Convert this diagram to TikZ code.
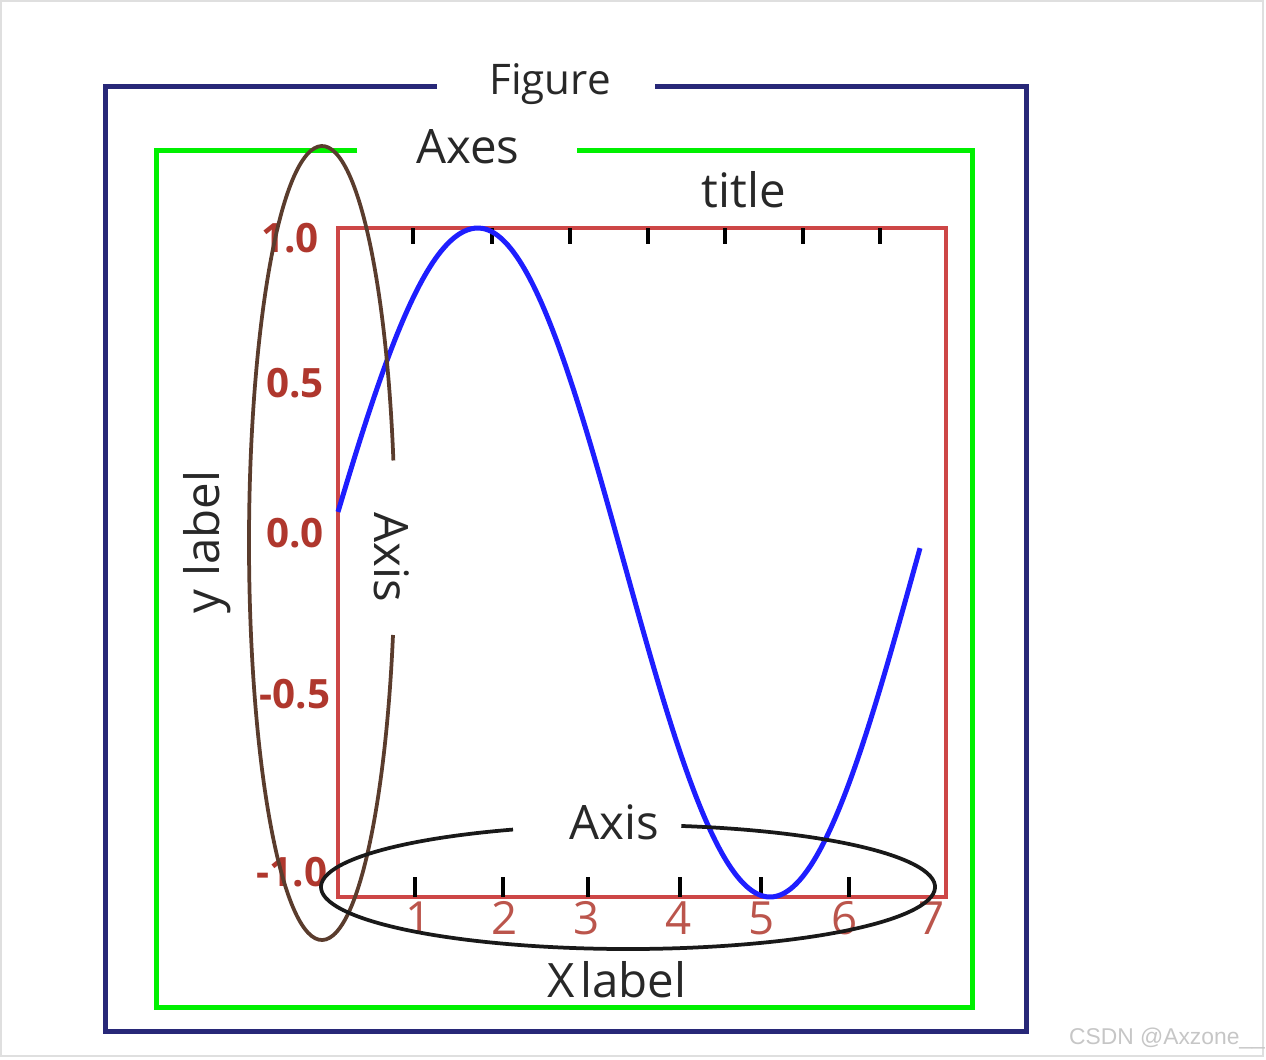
\documentclass[tikz,border=0pt]{standalone}
\usepackage{fontspec}
\setmainfont{Open Sans}
\newfontfamily\wmfont{Liberation Sans}
\definecolor{figblue}{RGB}{40,40,120}
\definecolor{axgreen}{RGB}{0,240,0}
\definecolor{plotred}{RGB}{205,70,70}
\definecolor{txtred}{RGB}{175,55,45}
\definecolor{curveblue}{RGB}{30,30,255}
\definecolor{axbrown}{RGB}{90,60,45}
\definecolor{txtgray}{RGB}{40,40,40}
\begin{document}
\begin{tikzpicture}[x=0.02cm,y=-0.02cm,
  bigtxt/.style={text=txtgray,inner sep=0pt,font=\fontsize{27}{30}\selectfont},
  ylab/.style={text=txtred,inner sep=0pt,font=\fontsize{23}{26}\selectfont\bfseries},
  xlab/.style={text=txtred!85,inner sep=0pt,font=\fontsize{26}{30}\selectfont},
  tickmark/.style={line width=0.08cm,black},
]
\useasboundingbox (0,0) rectangle (1266,1059);
\draw[gray!25,line width=0.04cm] (1,1) rectangle (1263,1056);
% Figure frame
\coordinate (f1) at (437,86);
\coordinate (f2) at (105,86);
\coordinate (f3) at (105,1031);
\coordinate (f4) at (1026,1031);
\coordinate (f5) at (1026,86);
\coordinate (f6) at (655,86);
\draw[figblue,line width=0.1cm] (f1) -- (f2) -- (f3) -- (f4) -- (f5) -- (f6);
\node[bigtxt,font=\fontsize{24}{28}\selectfont] (figlbl) at (550,84) {Figure};
% Axes frame
\coordinate (a1) at (357,150);
\coordinate (a2) at (156,150);
\coordinate (a3) at (156,1007);
\coordinate (a4) at (972,1007);
\coordinate (a5) at (972,150);
\coordinate (a6) at (577,150);
\draw[axgreen,line width=0.1cm] (a1) -- (a2) -- (a3) -- (a4) -- (a5) -- (a6);
\node[bigtxt] (axeslbl) at (468,147) {Axes};
\node[bigtxt] (titlelbl) at (744,190) {title};
% plot frame
\coordinate (p1) at (338,228);
\coordinate (p2) at (946,897);
\draw[plotred,line width=0.07cm] (p1) rectangle (p2);
% top ticks
\foreach \t/\n in {413/t1,492/t2,570/t3,648/t4,725/t5,803/t6,880/t7}{
  \coordinate (\n a) at (\t,228);
  \coordinate (\n b) at (\t,244);
  \draw[tickmark] (\n a) -- (\n b);
}
% bottom ticks
\foreach \t/\n in {415/b1,503/b2,588/b3,680/b4,761/b5,849/b6}{
  \coordinate (\n a) at (\t,897);
  \coordinate (\n b) at (\t,877);
  \draw[tickmark] (\n a) -- (\n b);
}
% y tick labels
\node[ylab] (y1) at (290,238) {1.0};
\node[ylab] (y2) at (295,383) {0.5};
\node[ylab] (y3) at (295,533) {0.0};
\node[ylab] (y4) at (295,694) {-0.5};
\node[ylab] (y5) at (292,872) {-1.0};
% x tick labels
\foreach \t/\v in {419/1,505/2,587/3,679/4,762/5,845/6,932/7}{
  \node[xlab] (x\v) at (\t,918) {\v};
}
% sine curve
\draw[curveblue,line width=0.1cm,line join=round]
  plot[domain=338:478,samples=40,smooth] (\x,{562.5-334.5*sin(8.7+(\x-338)/140*81.3)})
  -- plot[domain=478:920,samples=90,smooth] (\x,{562.5-334.5*sin(90+(\x-478)/292*180)});
% brown ellipse (y axis)
\coordinate (be) at (322,543);
\draw[axbrown,line width=0.075cm] ([shift={(12:1.46cm and 7.94cm)}]be)
  arc[start angle=12,end angle=346.6,x radius=1.46cm,y radius=7.94cm];
\node[bigtxt,rotate=-90] (yaxis) at (392,557) {Axis};
\node[bigtxt,rotate=90] (ylabel) at (207,542) {y label};
% black ellipse (x axis)
\coordinate (ke) at (628,887);
\draw[black!90,line width=0.075cm] ([shift={(112:6.14cm and 1.24cm)}]ke)
  arc[start angle=112,end angle=440,x radius=6.14cm,y radius=1.24cm];
\node[bigtxt] (xaxis) at (614,822) {Axis};
\node[bigtxt] (xlabel) at (617,980) {X\hspace{0.12em}label};
% watermark
\node[text=gray!45,inner sep=0pt,font=\wmfont\fontsize{13}{15}\selectfont] (wm) at (1167,1038) {CSDN @Axzone\_\_};
\end{tikzpicture}
\end{document}
